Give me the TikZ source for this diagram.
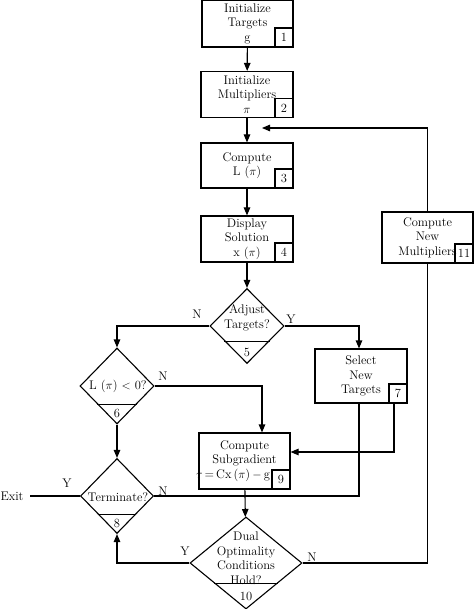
\documentclass[tikz,border=0pt]{standalone}
\usepackage{tikz}
\usetikzlibrary{arrows.meta,shapes.geometric,calc}

\begin{document}
\begin{tikzpicture}[x=1pt, y=-1pt, line width=1.1pt,
  >={Triangle[length=8pt,width=6.5pt]},
  every node/.style={font=\fontsize{12.5}{14.5}\selectfont},
  procbox/.style={draw, rectangle, align=center, inner sep=0pt},
  numbox/.style={draw, rectangle, inner sep=0pt, minimum width=18pt, minimum height=19pt, anchor=south east},
  decision/.style={draw, diamond, inner sep=0pt},
  tag/.style={inner sep=0pt}]

\useasboundingbox (0,0) rectangle (474,609);

% process boxes

\node[procbox, minimum width=91pt, minimum height=47pt] (b1) at (247.5, 23.5) {Initialize\\Targets\\g};
\node[procbox, minimum width=92pt, minimum height=46pt] (b2) at (247, 94.5) {Initialize\\Multipliers\\$\pi$};
\node[procbox, minimum width=92pt, minimum height=45pt] (b3) at (247, 165.5) {Compute\\L ($\pi$)};
\node[procbox, minimum width=92pt, minimum height=46pt] (b4) at (247, 239) {Display\\Solution\\x ($\pi$)};
\node[procbox, minimum width=92pt, minimum height=54pt] (b7) at (361, 376) {Select\\New\\Targets};
\node[procbox, minimum width=91pt, minimum height=56pt] (b9) at (244.5, 461) {Compute\\Subgradient\\\makebox[0pt]{\hspace*{-23pt}$\tau$\,=\,Cx\,($\pi$)\,$-$\,g}};
\node[procbox, minimum width=91pt, minimum height=51pt] (b11) at (427.5, 237.5) {Compute\\New\\Multipliers};

% number tags of the boxes

\node[numbox] (n1) at (b1.south east) {1};
\node[numbox] (n2) at (b2.south east) {2};
\node[numbox] (n3) at (b3.south east) {3};
\node[numbox] (n4) at (b4.south east) {4};
\node[numbox] (n7) at (b7.south east) {7};
\node[numbox] (n9) at (b9.south east) {9};
\node[numbox] (n11) at (b11.south east) {11};

% decision diamonds

\node[decision, minimum width=74pt, minimum height=75pt] (d5) at (247, 326) {};
\node[decision, minimum width=74pt, minimum height=76pt] (d6) at (117, 386) {};
\node[decision, minimum width=73pt, minimum height=75pt] (d8) at (117, 496) {};
\node[decision, minimum width=112pt, minimum height=92pt] (d10) at (246, 563) {};

% chords inside the diamonds
\draw ($(d5.west)!0.4!(d5.south)$) -- ($(d5.east)!0.4!(d5.south)$);
\draw ($(d6.west)!0.47!(d6.south)$) -- ($(d6.east)!0.47!(d6.south)$);
\draw ($(d8.west)!0.48!(d8.south)$) -- ($(d8.east)!0.48!(d8.south)$);
\draw ($(d10.west)!0.44!(d10.south)$) -- ($(d10.east)!0.44!(d10.south)$);

% diamond texts

\node[tag, align=center] (t5) at (247, 318) {Adjust\\Targets?};
\node[tag] (t6) at (118, 386) {L ($\pi$) $<$ 0?};
\node[tag] (t8) at (118, 497) {Terminate?};
\node[tag, align=center] (t10) at (246, 558) {Dual\\Optimality\\Conditions\\Hold?};

\node[tag] (k5) at (247, 352) {5};
\node[tag] (k6) at (117, 413) {6};
\node[tag] (k8) at (117, 523) {8};
\node[tag] (k10) at (246, 596) {10};

% exit
\node[tag, anchor=west] (exit) at (0, 496) {Exit};
\coordinate (loop) at (262, 128);

% branch letters
\node[tag] (y5) at (291, 319) {Y};
\node[tag] (n5) at (197, 314) {N};
\node[tag] (n6) at (163, 376) {N};
\node[tag] (y8) at (67, 483) {Y};
\node[tag] (n8) at (163, 491) {N};
\node[tag] (y10) at (185, 551) {Y};
\node[tag] (n10) at (312, 557) {N};

% main column
\draw [->] (b1) -- (b2);
\draw [->] (b2) -- (b3);
\draw [->] (b3) -- (b4);
\draw [->] (b4) -- (d5);

% adjust targets
\draw [->] (d5.west) -| (d6.north);
\draw [->] (d5.east) -| ([xshift=-2pt]b7.north);

% subgradient
\draw [->] (d6.east) -| ([xshift=17.5pt]b9.north);
\draw [->] ([xshift=33pt]b7.south) |- ([yshift=9pt]b9.east);
\draw [->] (d6) -- (d8);
\draw (d8.east) -| ([xshift=-2pt]b7.south);
\draw [->] (b9) -- (d10);

% dual optimality
\draw [->] (d10.west) -| (d8.south);
\draw (d10.east) -| (b11.south);
\draw [->] (b11.north) |- (loop);

\draw ([xshift=6pt]exit.east) -- (d8.west);

\end{tikzpicture}
\end{document}
